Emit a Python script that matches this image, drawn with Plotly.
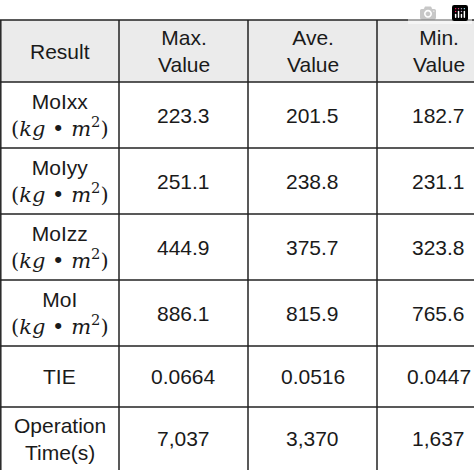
import plotly.graph_objects as go

headers = ["Result", "Max.<br>Value", "Ave.<br>Value", "Min.<br>Value"]
unit = "<br><span style='font-family:DejaVu Serif'>(<i>kg</i> • <i>m</i><sup>2</sup>)</span>"
row_labels = ["MoIxx" + unit, "MoIyy" + unit, "MoIzz" + unit, "MoI" + unit, "TIE", "Operation<br>Time(s)"]
max_vals = ["223.3", "251.1", "444.9", "886.1", "0.0664", "7,037"]
ave_vals = ["201.5", "238.8", "375.7", "815.9", "0.0516", "3,370"]
min_vals = ["182.7", "231.1", "323.8", "765.6", "0.0447", "1,637"]

col_edges = [0, 119, 248, 377, 500]
row_edges = [20, 82, 148, 214, 280, 346, 407, 470]

fig = go.Figure()
shapes = []
anns = []
shapes.append(dict(type="rect", x0=0, x1=506, y0=row_edges[0], y1=row_edges[1],
                   fillcolor="#ebebeb", line=dict(width=0), layer="below"))
font = dict(family="Liberation Sans, Arial", size=21, color="#1a1a1a")
cols = [row_labels, max_vals, ave_vals, min_vals]
for c in range(4):
    xc = (col_edges[c] + col_edges[c + 1]) / 2
    anns.append(dict(x=xc, y=(row_edges[0] + row_edges[1]) / 2, text=headers[c], showarrow=False,
                     font=font, xanchor="center", yanchor="middle"))
    for r in range(6):
        anns.append(dict(x=xc, y=(row_edges[r + 1] + row_edges[r + 2]) / 2, text=cols[c][r],
                         showarrow=False, font=font, xanchor="center", yanchor="middle"))
for y in row_edges[:-1]:
    shapes.append(dict(type="line", x0=0, x1=506, y0=y, y1=y, line=dict(color="#222", width=1.5)))
for x in col_edges[1:-1]:
    shapes.append(dict(type="line", x0=x, x1=x, y0=row_edges[0], y1=470, line=dict(color="#222", width=1.5)))
shapes.append(dict(type="line", x0=0.8, x1=0.8, y0=row_edges[0], y1=470, line=dict(color="#222", width=1.5)))

fig.update_layout(width=474, height=470, margin=dict(l=0, r=0, t=0, b=0),
                  paper_bgcolor="white", plot_bgcolor="white", shapes=shapes, annotations=anns,
                  xaxis=dict(range=[0, 474], visible=False, fixedrange=True),
                  yaxis=dict(range=[470, 0], visible=False, fixedrange=True),
                  showlegend=False)
fig.write_html("out.html", post_script="document.body.style.margin='0';document.body.style.overflow='hidden';")
